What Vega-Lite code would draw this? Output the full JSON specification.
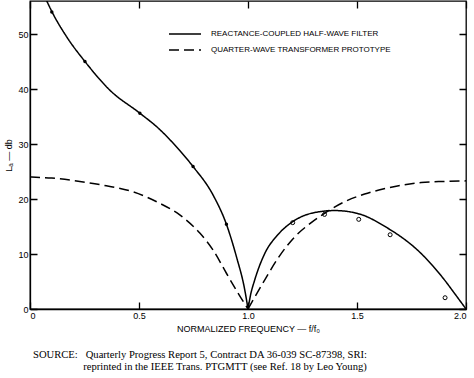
{
  "$schema": "https://vega.github.io/schema/vega-lite/v6.json",
  "width": 436,
  "height": 308,
  "autosize": {"type": "none"},
  "padding": {"left": 30, "top": 1, "right": 8, "bottom": 69},
  "background": "white",
  "config": {
    "view": {"stroke": "black", "strokeWidth": 1.3},
    "font": "Liberation Sans",
    "axis": {
      "ticks": false,
      "grid": true,
      "gridColor": "black",
      "gridOpacity": 1,
      "gridWidth": 1.3,
      "domainColor": "black",
      "domainWidth": 1.3,
      "labelPadding": 2,
      "labelColor": "black",
      "labelFont": "Liberation Sans",
      "labelFontSize": 9,
      "titleColor": "black",
      "titleFont": "Liberation Sans",
      "titleFontSize": 9,
      "titleFontWeight": "normal"
    }
  },
  "title": {
    "text": ["SOURCE:\u00a0\u00a0\u00a0Quarterly Progress Report 5, Contract DA 36-039 SC-87398, SRI:", "\u200b\u00a0\u00a0\u00a0\u00a0\u00a0\u00a0\u00a0\u00a0\u00a0\u00a0\u00a0\u00a0\u00a0\u00a0\u00a0\u00a0\u00a0\u00a0\u00a0reprinted in the IEEE Trans. PTGMTT (see Ref. 18 by Leo Young)"],
    "orient": "bottom",
    "anchor": "start",
    "frame": "group",
    "dx": 3,
    "offset": 17,
    "font": "Liberation Serif",
    "fontSize": 10.6,
    "fontWeight": "normal",
    "color": "black",
    "lineHeight": 12
  },
  "datasets": {
    "curves": [
      {"curve": "REACTANCE-COUPLED HALF-WAVE FILTER", "seg": "RL", "f": 0.07, "L": 56.6},
      {"curve": "REACTANCE-COUPLED HALF-WAVE FILTER", "seg": "RL", "f": 0.1, "L": 54.1},
      {"curve": "REACTANCE-COUPLED HALF-WAVE FILTER", "seg": "RL", "f": 0.168, "L": 49.5},
      {"curve": "REACTANCE-COUPLED HALF-WAVE FILTER", "seg": "RL", "f": 0.252, "L": 45.0},
      {"curve": "REACTANCE-COUPLED HALF-WAVE FILTER", "seg": "RL", "f": 0.366, "L": 39.8},
      {"curve": "REACTANCE-COUPLED HALF-WAVE FILTER", "seg": "RL", "f": 0.504, "L": 35.6},
      {"curve": "REACTANCE-COUPLED HALF-WAVE FILTER", "seg": "RL", "f": 0.588, "L": 32.9},
      {"curve": "REACTANCE-COUPLED HALF-WAVE FILTER", "seg": "RL", "f": 0.687, "L": 28.8},
      {"curve": "REACTANCE-COUPLED HALF-WAVE FILTER", "seg": "RL", "f": 0.748, "L": 25.9},
      {"curve": "REACTANCE-COUPLED HALF-WAVE FILTER", "seg": "RL", "f": 0.84, "L": 20.7},
      {"curve": "REACTANCE-COUPLED HALF-WAVE FILTER", "seg": "RL", "f": 0.901, "L": 15.4},
      {"curve": "REACTANCE-COUPLED HALF-WAVE FILTER", "seg": "RL", "f": 0.947, "L": 9.5},
      {"curve": "REACTANCE-COUPLED HALF-WAVE FILTER", "seg": "RL", "f": 0.985, "L": 3.5},
      {"curve": "REACTANCE-COUPLED HALF-WAVE FILTER", "seg": "RL", "f": 1.0, "L": 0},
      {"curve": "REACTANCE-COUPLED HALF-WAVE FILTER", "seg": "RR", "f": 1.0, "L": 0},
      {"curve": "REACTANCE-COUPLED HALF-WAVE FILTER", "seg": "RR", "f": 1.012, "L": 2.6},
      {"curve": "REACTANCE-COUPLED HALF-WAVE FILTER", "seg": "RR", "f": 1.031, "L": 5.3},
      {"curve": "REACTANCE-COUPLED HALF-WAVE FILTER", "seg": "RR", "f": 1.077, "L": 10.1},
      {"curve": "REACTANCE-COUPLED HALF-WAVE FILTER", "seg": "RR", "f": 1.137, "L": 13.5},
      {"curve": "REACTANCE-COUPLED HALF-WAVE FILTER", "seg": "RR", "f": 1.206, "L": 15.9},
      {"curve": "REACTANCE-COUPLED HALF-WAVE FILTER", "seg": "RR", "f": 1.29, "L": 17.4},
      {"curve": "REACTANCE-COUPLED HALF-WAVE FILTER", "seg": "RR", "f": 1.397, "L": 17.9},
      {"curve": "REACTANCE-COUPLED HALF-WAVE FILTER", "seg": "RR", "f": 1.5, "L": 17.4},
      {"curve": "REACTANCE-COUPLED HALF-WAVE FILTER", "seg": "RR", "f": 1.641, "L": 14.7},
      {"curve": "REACTANCE-COUPLED HALF-WAVE FILTER", "seg": "RR", "f": 1.794, "L": 10.1},
      {"curve": "REACTANCE-COUPLED HALF-WAVE FILTER", "seg": "RR", "f": 1.901, "L": 5.3},
      {"curve": "REACTANCE-COUPLED HALF-WAVE FILTER", "seg": "RR", "f": 1.95, "L": 2.7},
      {"curve": "REACTANCE-COUPLED HALF-WAVE FILTER", "seg": "RR", "f": 2.0, "L": 0},
      {"curve": "QUARTER-WAVE TRANSFORMER PROTOTYPE", "seg": "QL", "f": 0, "L": 24.0},
      {"curve": "QUARTER-WAVE TRANSFORMER PROTOTYPE", "seg": "QL", "f": 0.1, "L": 23.8},
      {"curve": "QUARTER-WAVE TRANSFORMER PROTOTYPE", "seg": "QL", "f": 0.244, "L": 23.1},
      {"curve": "QUARTER-WAVE TRANSFORMER PROTOTYPE", "seg": "QL", "f": 0.35, "L": 22.4},
      {"curve": "QUARTER-WAVE TRANSFORMER PROTOTYPE", "seg": "QL", "f": 0.473, "L": 21.3},
      {"curve": "QUARTER-WAVE TRANSFORMER PROTOTYPE", "seg": "QL", "f": 0.596, "L": 19.2},
      {"curve": "QUARTER-WAVE TRANSFORMER PROTOTYPE", "seg": "QL", "f": 0.687, "L": 17.1},
      {"curve": "QUARTER-WAVE TRANSFORMER PROTOTYPE", "seg": "QL", "f": 0.779, "L": 13.8},
      {"curve": "QUARTER-WAVE TRANSFORMER PROTOTYPE", "seg": "QL", "f": 0.84, "L": 10.7},
      {"curve": "QUARTER-WAVE TRANSFORMER PROTOTYPE", "seg": "QL", "f": 0.901, "L": 6.5},
      {"curve": "QUARTER-WAVE TRANSFORMER PROTOTYPE", "seg": "QL", "f": 0.954, "L": 2.9},
      {"curve": "QUARTER-WAVE TRANSFORMER PROTOTYPE", "seg": "QL", "f": 1.0, "L": 0},
      {"curve": "QUARTER-WAVE TRANSFORMER PROTOTYPE", "seg": "QR", "f": 1.0, "L": 0},
      {"curve": "QUARTER-WAVE TRANSFORMER PROTOTYPE", "seg": "QR", "f": 1.077, "L": 5.3},
      {"curve": "QUARTER-WAVE TRANSFORMER PROTOTYPE", "seg": "QR", "f": 1.137, "L": 9.2},
      {"curve": "QUARTER-WAVE TRANSFORMER PROTOTYPE", "seg": "QR", "f": 1.214, "L": 13.1},
      {"curve": "QUARTER-WAVE TRANSFORMER PROTOTYPE", "seg": "QR", "f": 1.29, "L": 15.7},
      {"curve": "QUARTER-WAVE TRANSFORMER PROTOTYPE", "seg": "QR", "f": 1.351, "L": 17.4},
      {"curve": "QUARTER-WAVE TRANSFORMER PROTOTYPE", "seg": "QR", "f": 1.443, "L": 19.5},
      {"curve": "QUARTER-WAVE TRANSFORMER PROTOTYPE", "seg": "QR", "f": 1.535, "L": 20.9},
      {"curve": "QUARTER-WAVE TRANSFORMER PROTOTYPE", "seg": "QR", "f": 1.641, "L": 22.0},
      {"curve": "QUARTER-WAVE TRANSFORMER PROTOTYPE", "seg": "QR", "f": 1.794, "L": 23.0},
      {"curve": "QUARTER-WAVE TRANSFORMER PROTOTYPE", "seg": "QR", "f": 1.9, "L": 23.2},
      {"curve": "QUARTER-WAVE TRANSFORMER PROTOTYPE", "seg": "QR", "f": 2.0, "L": 23.3}
    ],
    "points": [
      {"kind": "dot", "f": 0.1, "L": 54.0},
      {"kind": "dot", "f": 0.252, "L": 45.0},
      {"kind": "dot", "f": 0.504, "L": 35.6},
      {"kind": "dot", "f": 0.748, "L": 25.9},
      {"kind": "dot", "f": 0.901, "L": 15.4},
      {"kind": "open", "f": 1.205, "L": 15.7},
      {"kind": "open", "f": 1.351, "L": 17.2},
      {"kind": "open", "f": 1.508, "L": 16.3},
      {"kind": "open", "f": 1.652, "L": 13.5},
      {"kind": "open", "f": 1.904, "L": 2.05}
    ]
  },
  "layer": [
    {
      "data": {"name": "curves"},
      "mark": {"type": "line", "interpolate": "monotone", "color": "black", "strokeWidth": 1.5, "clip": true},
      "encoding": {
        "x": {
          "field": "f", "type": "quantitative",
          "scale": {"domain": [0, 2], "nice": false},
          "axis": {
            "values": [0, 0.5, 1, 1.5, 2],
            "labelExpr": "datum.value == 0 ? '0' : format(datum.value, '.1f')",
            "title": "NORMALIZED FREQUENCY — f/f₀",
            "titlePadding": 4,
            "gridDash": [7, 294]
          }
        },
        "y": {
          "field": "L", "type": "quantitative",
          "scale": {"domain": [0, 56], "nice": false},
          "axis": {
            "values": [0, 10, 20, 30, 40, 50],
            "title": "Lₐ — db",
            "labelPadding": 2,
            "titlePadding": 4,
            "gridDash": [7, 422]
          }
        },
        "strokeDash": {
          "field": "curve", "type": "nominal",
          "scale": {
            "domain": ["REACTANCE-COUPLED HALF-WAVE FILTER", "QUARTER-WAVE TRANSFORMER PROTOTYPE"],
            "range": [[1, 0], [10, 5]]
          },
          "legend": {
            "title": null,
            "orient": "none",
            "legendX": 149,
            "legendY": 27,
            "padding": 0,
            "symbolType": "M-3.2,0H3.2",
            "symbolSize": 100,
            "symbolStrokeColor": "black",
            "symbolStrokeWidth": 1.5,
            "labelFont": "Liberation Sans",
            "labelFontSize": 8,
            "labelColor": "black",
            "labelOffset": 20,
            "labelLimit": 0,
            "rowPadding": 6
          }
        },
        "detail": {"field": "seg"}
      }
    },
    {
      "data": {"name": "points"},
      "transform": [{"filter": "datum.kind == 'dot'"}],
      "mark": {"type": "point", "filled": true, "color": "black", "size": 12, "opacity": 1},
      "encoding": {
        "x": {"field": "f", "type": "quantitative"},
        "y": {"field": "L", "type": "quantitative"}
      }
    },
    {
      "data": {"name": "points"},
      "transform": [{"filter": "datum.kind == 'open'"}],
      "mark": {"type": "point", "filled": false, "color": "black", "strokeWidth": 1, "size": 16, "opacity": 1},
      "encoding": {
        "x": {"field": "f", "type": "quantitative"},
        "y": {"field": "L", "type": "quantitative"}
      }
    }
  ]
}
